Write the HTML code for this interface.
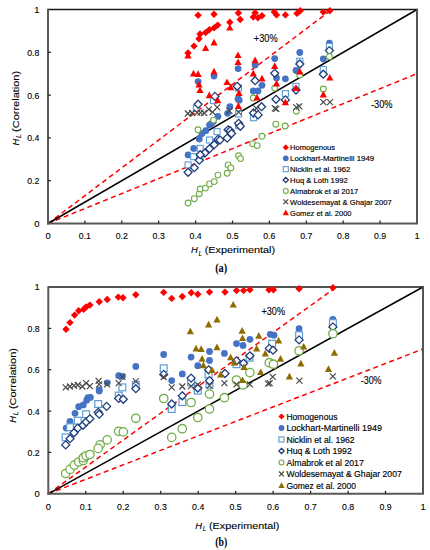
<!DOCTYPE html>
<html><head><meta charset="utf-8"><style>html,body{margin:0;padding:0;background:#fff;width:430px;height:550px;overflow:hidden}svg{display:block}</style></head><body>
<svg width="430" height="550" viewBox="0 0 430 550">
<rect width="430" height="550" fill="#fff"/>
<line x1="48.0" y1="223.5" x2="331.8" y2="9.5" stroke="#FF0000" stroke-width="1.5" stroke-dasharray="5,3.5"/>
<line x1="48.0" y1="223.5" x2="417.0" y2="73.7" stroke="#FF0000" stroke-width="1.5" stroke-dasharray="5,3.5"/>
<line x1="48.0" y1="223.5" x2="417.0" y2="9.5" stroke="#000" stroke-width="1.5"/>
<line x1="48.0" y1="9.5" x2="418.0" y2="9.5" stroke="#1a1a1a" stroke-width="1.5"/>
<line x1="417.0" y1="9.5" x2="417.0" y2="223.5" stroke="#555" stroke-width="2"/>
<line x1="48.0" y1="8.8" x2="48.0" y2="224.5" stroke="#595959" stroke-width="2"/>
<line x1="47.0" y1="223.5" x2="418.0" y2="223.5" stroke="#595959" stroke-width="2"/>
<line x1="84.9" y1="223.5" x2="84.9" y2="220.5" stroke="#222" stroke-width="1.2"/>
<line x1="121.8" y1="223.5" x2="121.8" y2="220.5" stroke="#222" stroke-width="1.2"/>
<line x1="158.7" y1="223.5" x2="158.7" y2="220.5" stroke="#222" stroke-width="1.2"/>
<line x1="195.6" y1="223.5" x2="195.6" y2="220.5" stroke="#222" stroke-width="1.2"/>
<line x1="232.5" y1="223.5" x2="232.5" y2="220.5" stroke="#222" stroke-width="1.2"/>
<line x1="269.4" y1="223.5" x2="269.4" y2="220.5" stroke="#222" stroke-width="1.2"/>
<line x1="306.3" y1="223.5" x2="306.3" y2="220.5" stroke="#222" stroke-width="1.2"/>
<line x1="343.2" y1="223.5" x2="343.2" y2="220.5" stroke="#222" stroke-width="1.2"/>
<line x1="380.1" y1="223.5" x2="380.1" y2="220.5" stroke="#222" stroke-width="1.2"/>
<line x1="48.0" y1="180.7" x2="51.0" y2="180.7" stroke="#222" stroke-width="1.2"/>
<line x1="48.0" y1="137.9" x2="51.0" y2="137.9" stroke="#222" stroke-width="1.2"/>
<line x1="48.0" y1="95.1" x2="51.0" y2="95.1" stroke="#222" stroke-width="1.2"/>
<line x1="48.0" y1="52.3" x2="51.0" y2="52.3" stroke="#222" stroke-width="1.2"/>
<path d="M198.1 11.6L201.8 15.3L198.1 19.0L194.4 15.3Z" fill="#FF0000"/>
<path d="M214.0 10.6L217.7 14.3L214.0 18.0L210.3 14.3Z" fill="#FF0000"/>
<path d="M229.8 18.6L233.5 22.3L229.8 26.0L226.1 22.3Z" fill="#FF0000"/>
<path d="M217.7 21.4L221.4 25.1L217.7 28.8L214.0 25.1Z" fill="#FF0000"/>
<path d="M214.0 24.2L217.7 27.9L214.0 31.6L210.3 27.9Z" fill="#FF0000"/>
<path d="M209.3 26.1L213.0 29.8L209.3 33.5L205.6 29.8Z" fill="#FF0000"/>
<path d="M205.6 28.9L209.3 32.6L205.6 36.3L201.9 32.6Z" fill="#FF0000"/>
<path d="M200.0 30.3L203.7 34.0L200.0 37.7L196.3 34.0Z" fill="#FF0000"/>
<path d="M199.0 35.0L202.7 38.7L199.0 42.4L195.3 38.7Z" fill="#FF0000"/>
<path d="M194.0 42.4L197.7 46.1L194.0 49.8L190.3 46.1Z" fill="#FF0000"/>
<path d="M188.0 49.3L191.7 53.0L188.0 56.7L184.3 53.0Z" fill="#FF0000"/>
<path d="M238.4 9.3L242.1 13.0L238.4 16.7L234.7 13.0Z" fill="#FF0000"/>
<path d="M240.2 15.8L243.9 19.5L240.2 23.2L236.5 19.5Z" fill="#FF0000"/>
<path d="M255.1 9.0L258.8 12.7L255.1 16.4L251.4 12.7Z" fill="#FF0000"/>
<path d="M253.3 13.4L257.0 17.1L253.3 20.8L249.6 17.1Z" fill="#FF0000"/>
<path d="M257.9 14.0L261.6 17.7L257.9 21.4L254.2 17.7Z" fill="#FF0000"/>
<path d="M262.0 12.1L265.7 15.8L262.0 19.5L258.3 15.8Z" fill="#FF0000"/>
<path d="M274.3 8.4L278.0 12.1L274.3 15.8L270.6 12.1Z" fill="#FF0000"/>
<path d="M276.5 11.2L280.2 14.9L276.5 18.6L272.8 14.9Z" fill="#FF0000"/>
<path d="M285.4 11.2L289.1 14.9L285.4 18.6L281.7 14.9Z" fill="#FF0000"/>
<path d="M297.0 9.7L300.7 13.4L297.0 17.1L293.3 13.4Z" fill="#FF0000"/>
<path d="M300.3 7.1L304.0 10.8L300.3 14.5L296.6 10.8Z" fill="#FF0000"/>
<path d="M323.3 8.4L327.0 12.1L323.3 15.8L319.6 12.1Z" fill="#FF0000"/>
<path d="M329.8 7.1L333.5 10.8L329.8 14.5L326.1 10.8Z" fill="#FF0000"/>
<circle cx="274.7" cy="58.6" r="3.40" fill="#4472C4"/>
<circle cx="299.8" cy="52.5" r="3.40" fill="#4472C4"/>
<circle cx="329.4" cy="43.2" r="3.40" fill="#4472C4"/>
<circle cx="323.3" cy="59.0" r="3.40" fill="#4472C4"/>
<circle cx="214.0" cy="76.0" r="3.40" fill="#4472C4"/>
<circle cx="198.1" cy="81.6" r="3.40" fill="#4472C4"/>
<circle cx="238.1" cy="68.6" r="3.40" fill="#4472C4"/>
<circle cx="238.0" cy="99.0" r="3.40" fill="#4472C4"/>
<circle cx="255.1" cy="64.9" r="3.40" fill="#4472C4"/>
<circle cx="262.0" cy="85.3" r="3.40" fill="#4472C4"/>
<circle cx="253.3" cy="91.0" r="3.40" fill="#4472C4"/>
<circle cx="258.0" cy="91.0" r="3.40" fill="#4472C4"/>
<circle cx="276.5" cy="77.9" r="3.40" fill="#4472C4"/>
<circle cx="285.4" cy="78.8" r="3.40" fill="#4472C4"/>
<circle cx="296.0" cy="70.5" r="3.40" fill="#4472C4"/>
<circle cx="217.9" cy="116.4" r="3.40" fill="#4472C4"/>
<circle cx="213.3" cy="121.4" r="3.40" fill="#4472C4"/>
<circle cx="209.5" cy="125.1" r="3.40" fill="#4472C4"/>
<circle cx="205.8" cy="130.7" r="3.40" fill="#4472C4"/>
<circle cx="202.0" cy="133.5" r="3.40" fill="#4472C4"/>
<circle cx="199.3" cy="139.0" r="3.40" fill="#4472C4"/>
<circle cx="193.7" cy="148.4" r="3.40" fill="#4472C4"/>
<circle cx="188.1" cy="154.9" r="3.40" fill="#4472C4"/>
<circle cx="229.9" cy="106.7" r="3.40" fill="#4472C4"/>
<circle cx="227.6" cy="113.3" r="3.40" fill="#4472C4"/>
<circle cx="239.2" cy="100.2" r="3.40" fill="#4472C4"/>
<circle cx="211.4" cy="123.6" r="3.40" fill="#4472C4"/>
<rect x="326.4" y="43.5" width="6.0" height="6.0" fill="#fff" stroke="#5B9BD5" stroke-width="1.1"/>
<rect x="210.5" y="97.6" width="6.0" height="6.0" fill="#fff" stroke="#5B9BD5" stroke-width="1.1"/>
<rect x="193.3" y="105.4" width="6.0" height="6.0" fill="#fff" stroke="#5B9BD5" stroke-width="1.1"/>
<rect x="235.4" y="85.0" width="6.0" height="6.0" fill="#fff" stroke="#5B9BD5" stroke-width="1.1"/>
<rect x="282.4" y="90.7" width="6.0" height="6.0" fill="#fff" stroke="#5B9BD5" stroke-width="1.1"/>
<rect x="296.8" y="58.2" width="6.0" height="6.0" fill="#fff" stroke="#5B9BD5" stroke-width="1.1"/>
<rect x="293.0" y="83.3" width="6.0" height="6.0" fill="#fff" stroke="#5B9BD5" stroke-width="1.1"/>
<rect x="320.3" y="66.5" width="6.0" height="6.0" fill="#fff" stroke="#5B9BD5" stroke-width="1.1"/>
<rect x="214.0" y="128.6" width="6.0" height="6.0" fill="#fff" stroke="#5B9BD5" stroke-width="1.1"/>
<rect x="206.5" y="137.0" width="6.0" height="6.0" fill="#fff" stroke="#5B9BD5" stroke-width="1.1"/>
<rect x="197.2" y="145.4" width="6.0" height="6.0" fill="#fff" stroke="#5B9BD5" stroke-width="1.1"/>
<rect x="190.7" y="153.7" width="6.0" height="6.0" fill="#fff" stroke="#5B9BD5" stroke-width="1.1"/>
<rect x="185.1" y="161.9" width="6.0" height="6.0" fill="#fff" stroke="#5B9BD5" stroke-width="1.1"/>
<rect x="235.6" y="111.0" width="6.0" height="6.0" fill="#fff" stroke="#5B9BD5" stroke-width="1.1"/>
<rect x="250.5" y="114.7" width="6.0" height="6.0" fill="#fff" stroke="#5B9BD5" stroke-width="1.1"/>
<rect x="235.6" y="122.7" width="6.0" height="6.0" fill="#fff" stroke="#5B9BD5" stroke-width="1.1"/>
<rect x="197.0" y="155.0" width="6.0" height="6.0" fill="#fff" stroke="#5B9BD5" stroke-width="1.1"/>
<path d="M329.4 46.6L333.4 50.6L329.4 54.6L325.4 50.6Z" fill="#fff" stroke="#1F3D7A" stroke-width="1.3"/>
<path d="M214.9 92.4L218.9 96.4L214.9 100.4L210.9 96.4Z" fill="#fff" stroke="#1F3D7A" stroke-width="1.3"/>
<path d="M198.1 100.2L202.1 104.2L198.1 108.2L194.1 104.2Z" fill="#fff" stroke="#1F3D7A" stroke-width="1.3"/>
<path d="M237.2 82.3L241.2 86.3L237.2 90.3L233.2 86.3Z" fill="#fff" stroke="#1F3D7A" stroke-width="1.3"/>
<path d="M255.1 76.7L259.1 80.7L255.1 84.7L251.1 80.7Z" fill="#fff" stroke="#1F3D7A" stroke-width="1.3"/>
<path d="M261.6 102.7L265.6 106.7L261.6 110.7L257.6 106.7Z" fill="#fff" stroke="#1F3D7A" stroke-width="1.3"/>
<path d="M274.7 69.3L278.7 73.3L274.7 77.3L270.7 73.3Z" fill="#fff" stroke="#1F3D7A" stroke-width="1.3"/>
<path d="M276.0 95.3L280.0 99.3L276.0 103.3L272.0 99.3Z" fill="#fff" stroke="#1F3D7A" stroke-width="1.3"/>
<path d="M285.4 95.9L289.4 99.9L285.4 103.9L281.4 99.9Z" fill="#fff" stroke="#1F3D7A" stroke-width="1.3"/>
<path d="M299.8 60.0L303.8 64.0L299.8 68.0L295.8 64.0Z" fill="#fff" stroke="#1F3D7A" stroke-width="1.3"/>
<path d="M296.0 86.0L300.0 90.0L296.0 94.0L292.0 90.0Z" fill="#fff" stroke="#1F3D7A" stroke-width="1.3"/>
<path d="M323.3 70.2L327.3 74.2L323.3 78.2L319.3 74.2Z" fill="#fff" stroke="#1F3D7A" stroke-width="1.3"/>
<path d="M217.9 135.4L221.9 139.4L217.9 143.4L213.9 139.4Z" fill="#fff" stroke="#1F3D7A" stroke-width="1.3"/>
<path d="M214.2 140.7L218.2 144.7L214.2 148.7L210.2 144.7Z" fill="#fff" stroke="#1F3D7A" stroke-width="1.3"/>
<path d="M209.5 144.7L213.5 148.7L209.5 152.7L205.5 148.7Z" fill="#fff" stroke="#1F3D7A" stroke-width="1.3"/>
<path d="M204.9 149.0L208.9 153.0L204.9 157.0L200.9 153.0Z" fill="#fff" stroke="#1F3D7A" stroke-width="1.3"/>
<path d="M228.1 125.8L232.1 129.8L228.1 133.8L224.1 129.8Z" fill="#fff" stroke="#1F3D7A" stroke-width="1.3"/>
<path d="M227.2 134.1L231.2 138.1L227.2 142.1L223.2 138.1Z" fill="#fff" stroke="#1F3D7A" stroke-width="1.3"/>
<path d="M253.5 109.0L257.5 113.0L253.5 117.0L249.5 113.0Z" fill="#fff" stroke="#1F3D7A" stroke-width="1.3"/>
<path d="M258.1 110.9L262.1 114.9L258.1 118.9L254.1 114.9Z" fill="#fff" stroke="#1F3D7A" stroke-width="1.3"/>
<path d="M238.6 119.3L242.6 123.3L238.6 127.3L234.6 123.3Z" fill="#fff" stroke="#1F3D7A" stroke-width="1.3"/>
<path d="M240.3 122.3L244.3 126.3L240.3 130.3L236.3 126.3Z" fill="#fff" stroke="#1F3D7A" stroke-width="1.3"/>
<path d="M230.2 126.7L234.2 130.7L230.2 134.7L226.2 130.7Z" fill="#fff" stroke="#1F3D7A" stroke-width="1.3"/>
<path d="M231.5 129.5L235.5 133.5L231.5 137.5L227.5 133.5Z" fill="#fff" stroke="#1F3D7A" stroke-width="1.3"/>
<path d="M220.0 136.0L224.0 140.0L220.0 144.0L216.0 140.0Z" fill="#fff" stroke="#1F3D7A" stroke-width="1.3"/>
<path d="M188.1 168.3L192.1 172.3L188.1 176.3L184.1 172.3Z" fill="#fff" stroke="#1F3D7A" stroke-width="1.3"/>
<path d="M194.3 163.7L198.3 167.7L194.3 171.7L190.3 167.7Z" fill="#fff" stroke="#1F3D7A" stroke-width="1.3"/>
<path d="M199.3 156.2L203.3 160.2L199.3 164.2L195.3 160.2Z" fill="#fff" stroke="#1F3D7A" stroke-width="1.3"/>
<path d="M200.2 150.7L204.2 154.7L200.2 158.7L196.2 154.7Z" fill="#fff" stroke="#1F3D7A" stroke-width="1.3"/>
<circle cx="329.4" cy="56.7" r="2.90" fill="#fff" stroke="#70AD47" stroke-width="1.1"/>
<circle cx="253.3" cy="98.0" r="2.90" fill="#fff" stroke="#70AD47" stroke-width="1.1"/>
<circle cx="274.7" cy="88.1" r="2.90" fill="#fff" stroke="#70AD47" stroke-width="1.1"/>
<circle cx="299.8" cy="75.0" r="2.90" fill="#fff" stroke="#70AD47" stroke-width="1.1"/>
<circle cx="323.3" cy="89.0" r="2.90" fill="#fff" stroke="#70AD47" stroke-width="1.1"/>
<circle cx="213.5" cy="120.1" r="2.90" fill="#fff" stroke="#70AD47" stroke-width="1.1"/>
<circle cx="198.0" cy="129.8" r="2.90" fill="#fff" stroke="#70AD47" stroke-width="1.1"/>
<circle cx="296.3" cy="111.2" r="2.90" fill="#fff" stroke="#70AD47" stroke-width="1.1"/>
<circle cx="275.8" cy="124.2" r="2.90" fill="#fff" stroke="#70AD47" stroke-width="1.1"/>
<circle cx="285.1" cy="126.0" r="2.90" fill="#fff" stroke="#70AD47" stroke-width="1.1"/>
<circle cx="261.9" cy="136.3" r="2.90" fill="#fff" stroke="#70AD47" stroke-width="1.1"/>
<circle cx="252.6" cy="143.7" r="2.90" fill="#fff" stroke="#70AD47" stroke-width="1.1"/>
<circle cx="257.2" cy="145.6" r="2.90" fill="#fff" stroke="#70AD47" stroke-width="1.1"/>
<circle cx="238.6" cy="155.8" r="2.90" fill="#fff" stroke="#70AD47" stroke-width="1.1"/>
<circle cx="188.1" cy="203.0" r="2.90" fill="#fff" stroke="#70AD47" stroke-width="1.1"/>
<circle cx="194.3" cy="198.7" r="2.90" fill="#fff" stroke="#70AD47" stroke-width="1.1"/>
<circle cx="199.3" cy="193.7" r="2.90" fill="#fff" stroke="#70AD47" stroke-width="1.1"/>
<circle cx="200.2" cy="189.0" r="2.90" fill="#fff" stroke="#70AD47" stroke-width="1.1"/>
<circle cx="205.4" cy="188.1" r="2.90" fill="#fff" stroke="#70AD47" stroke-width="1.1"/>
<circle cx="209.5" cy="183.9" r="2.90" fill="#fff" stroke="#70AD47" stroke-width="1.1"/>
<circle cx="214.2" cy="181.6" r="2.90" fill="#fff" stroke="#70AD47" stroke-width="1.1"/>
<circle cx="217.9" cy="175.1" r="2.90" fill="#fff" stroke="#70AD47" stroke-width="1.1"/>
<circle cx="227.2" cy="173.3" r="2.90" fill="#fff" stroke="#70AD47" stroke-width="1.1"/>
<circle cx="228.1" cy="164.9" r="2.90" fill="#fff" stroke="#70AD47" stroke-width="1.1"/>
<circle cx="240.5" cy="158.6" r="2.90" fill="#fff" stroke="#70AD47" stroke-width="1.1"/>
<circle cx="230.8" cy="167.9" r="2.90" fill="#fff" stroke="#70AD47" stroke-width="1.1"/>
<path d="M184.9 110.5L190.9 116.5M190.9 110.5L184.9 116.5" stroke="#474747" stroke-width="1.2"/>
<path d="M189.1 110.0L195.1 116.0M195.1 110.0L189.1 116.0" stroke="#474747" stroke-width="1.2"/>
<path d="M194.2 109.6L200.2 115.6M200.2 109.6L194.2 115.6" stroke="#474747" stroke-width="1.2"/>
<path d="M197.5 109.6L203.5 115.6M203.5 109.6L197.5 115.6" stroke="#474747" stroke-width="1.2"/>
<path d="M201.2 110.0L207.2 116.0M207.2 110.0L201.2 116.0" stroke="#474747" stroke-width="1.2"/>
<path d="M205.8 106.3L211.8 112.3M211.8 106.3L205.8 112.3" stroke="#474747" stroke-width="1.2"/>
<path d="M209.6 109.1L215.6 115.1M215.6 109.1L209.6 115.1" stroke="#474747" stroke-width="1.2"/>
<path d="M214.2 104.4L220.2 110.4M220.2 104.4L214.2 110.4" stroke="#474747" stroke-width="1.2"/>
<path d="M226.4 107.9L232.4 113.9M232.4 107.9L226.4 113.9" stroke="#474747" stroke-width="1.2"/>
<path d="M235.6 109.1L241.6 115.1M241.6 109.1L235.6 115.1" stroke="#474747" stroke-width="1.2"/>
<path d="M253.3 105.4L259.3 111.4M259.3 105.4L253.3 111.4" stroke="#474747" stroke-width="1.2"/>
<path d="M271.9 105.4L277.9 111.4M277.9 105.4L271.9 111.4" stroke="#474747" stroke-width="1.2"/>
<path d="M273.3 105.8L279.3 111.8M279.3 105.8L273.3 111.8" stroke="#474747" stroke-width="1.2"/>
<path d="M293.3 104.4L299.3 110.4M299.3 104.4L293.3 110.4" stroke="#474747" stroke-width="1.2"/>
<path d="M296.3 103.3L302.3 109.3M302.3 103.3L296.3 109.3" stroke="#474747" stroke-width="1.2"/>
<path d="M320.3 99.1L326.3 105.1M326.3 99.1L320.3 105.1" stroke="#474747" stroke-width="1.2"/>
<path d="M327.0 99.1L333.0 105.1M333.0 99.1L327.0 105.1" stroke="#474747" stroke-width="1.2"/>
<path d="M214.0 38.8L217.6 45.5L210.4 45.5Z" fill="#FF0000"/>
<path d="M205.6 44.4L209.2 51.1L202.0 51.1Z" fill="#FF0000"/>
<path d="M188.0 51.8L191.6 58.5L184.4 58.5Z" fill="#FF0000"/>
<path d="M229.8 23.9L233.4 30.6L226.2 30.6Z" fill="#FF0000"/>
<path d="M238.0 51.4L241.6 58.1L234.4 58.1Z" fill="#FF0000"/>
<path d="M193.5 69.7L197.1 76.4L189.9 76.4Z" fill="#FF0000"/>
<path d="M198.1 70.2L201.7 76.9L194.5 76.9Z" fill="#FF0000"/>
<path d="M214.0 67.8L217.6 74.5L210.4 74.5Z" fill="#FF0000"/>
<path d="M199.0 80.8L202.6 87.5L195.4 87.5Z" fill="#FF0000"/>
<path d="M200.0 86.4L203.6 93.1L196.4 93.1Z" fill="#FF0000"/>
<path d="M227.0 78.4L230.6 85.1L223.4 85.1Z" fill="#FF0000"/>
<path d="M230.7 83.6L234.3 90.3L227.1 90.3Z" fill="#FF0000"/>
<path d="M209.3 91.6L212.9 98.3L205.7 98.3Z" fill="#FF0000"/>
<path d="M217.7 96.6L221.3 103.3L214.1 103.3Z" fill="#FF0000"/>
<path d="M238.1 58.4L241.7 65.1L234.5 65.1Z" fill="#FF0000"/>
<path d="M239.0 89.2L242.6 95.9L235.4 95.9Z" fill="#FF0000"/>
<path d="M238.4 102.2L242.0 108.9L234.8 108.9Z" fill="#FF0000"/>
<path d="M255.1 56.6L258.7 63.3L251.5 63.3Z" fill="#FF0000"/>
<path d="M253.3 69.7L256.9 76.4L249.7 76.4Z" fill="#FF0000"/>
<path d="M262.0 74.7L265.6 81.4L258.4 81.4Z" fill="#FF0000"/>
<path d="M257.0 93.8L260.6 100.5L253.4 100.5Z" fill="#FF0000"/>
<path d="M274.7 62.2L278.3 68.9L271.1 68.9Z" fill="#FF0000"/>
<path d="M276.5 79.9L280.1 86.6L272.9 86.6Z" fill="#FF0000"/>
<path d="M285.4 98.5L289.0 105.2L281.8 105.2Z" fill="#FF0000"/>
<path d="M299.8 67.8L303.4 74.5L296.2 74.5Z" fill="#FF0000"/>
<path d="M296.0 84.4L299.6 91.1L292.4 91.1Z" fill="#FF0000"/>
<path d="M329.8 73.9L333.4 80.6L326.2 80.6Z" fill="#FF0000"/>
<path d="M323.3 90.7L326.9 97.4L319.7 97.4Z" fill="#FF0000"/>
<text x="48.0" y="239.3" font-family="Liberation Sans, sans-serif" font-size="9.4" fill="#000" stroke="#000" stroke-width="0.12" text-anchor="middle">0</text>
<text x="84.9" y="239.3" font-family="Liberation Sans, sans-serif" font-size="9.4" fill="#000" stroke="#000" stroke-width="0.12" text-anchor="middle" textLength="12.2" lengthAdjust="spacingAndGlyphs">0.1</text>
<text x="121.8" y="239.3" font-family="Liberation Sans, sans-serif" font-size="9.4" fill="#000" stroke="#000" stroke-width="0.12" text-anchor="middle" textLength="12.2" lengthAdjust="spacingAndGlyphs">0.2</text>
<text x="158.7" y="239.3" font-family="Liberation Sans, sans-serif" font-size="9.4" fill="#000" stroke="#000" stroke-width="0.12" text-anchor="middle" textLength="12.2" lengthAdjust="spacingAndGlyphs">0.3</text>
<text x="195.6" y="239.3" font-family="Liberation Sans, sans-serif" font-size="9.4" fill="#000" stroke="#000" stroke-width="0.12" text-anchor="middle" textLength="12.2" lengthAdjust="spacingAndGlyphs">0.4</text>
<text x="232.5" y="239.3" font-family="Liberation Sans, sans-serif" font-size="9.4" fill="#000" stroke="#000" stroke-width="0.12" text-anchor="middle" textLength="12.2" lengthAdjust="spacingAndGlyphs">0.5</text>
<text x="269.4" y="239.3" font-family="Liberation Sans, sans-serif" font-size="9.4" fill="#000" stroke="#000" stroke-width="0.12" text-anchor="middle" textLength="12.2" lengthAdjust="spacingAndGlyphs">0.6</text>
<text x="306.3" y="239.3" font-family="Liberation Sans, sans-serif" font-size="9.4" fill="#000" stroke="#000" stroke-width="0.12" text-anchor="middle" textLength="12.2" lengthAdjust="spacingAndGlyphs">0.7</text>
<text x="343.2" y="239.3" font-family="Liberation Sans, sans-serif" font-size="9.4" fill="#000" stroke="#000" stroke-width="0.12" text-anchor="middle" textLength="12.2" lengthAdjust="spacingAndGlyphs">0.8</text>
<text x="380.1" y="239.3" font-family="Liberation Sans, sans-serif" font-size="9.4" fill="#000" stroke="#000" stroke-width="0.12" text-anchor="middle" textLength="12.2" lengthAdjust="spacingAndGlyphs">0.9</text>
<text x="417.0" y="239.3" font-family="Liberation Sans, sans-serif" font-size="9.4" fill="#000" stroke="#000" stroke-width="0.12" text-anchor="middle">1</text>
<text x="39.4" y="226.9" font-family="Liberation Sans, sans-serif" font-size="9.4" fill="#000" stroke="#000" stroke-width="0.12" text-anchor="end">0</text>
<text x="39.4" y="184.1" font-family="Liberation Sans, sans-serif" font-size="9.4" fill="#000" stroke="#000" stroke-width="0.12" text-anchor="end" textLength="12.2" lengthAdjust="spacingAndGlyphs">0.2</text>
<text x="39.4" y="141.3" font-family="Liberation Sans, sans-serif" font-size="9.4" fill="#000" stroke="#000" stroke-width="0.12" text-anchor="end" textLength="12.2" lengthAdjust="spacingAndGlyphs">0.4</text>
<text x="39.4" y="98.5" font-family="Liberation Sans, sans-serif" font-size="9.4" fill="#000" stroke="#000" stroke-width="0.12" text-anchor="end" textLength="12.2" lengthAdjust="spacingAndGlyphs">0.6</text>
<text x="39.4" y="55.7" font-family="Liberation Sans, sans-serif" font-size="9.4" fill="#000" stroke="#000" stroke-width="0.12" text-anchor="end" textLength="12.2" lengthAdjust="spacingAndGlyphs">0.8</text>
<text x="39.4" y="12.9" font-family="Liberation Sans, sans-serif" font-size="9.4" fill="#000" stroke="#000" stroke-width="0.12" text-anchor="end">1</text>
<text x="191.1" y="253.3" font-family="Liberation Sans, sans-serif" font-size="9.4" font-style="italic" fill="#000" stroke="#000" stroke-width="0.1">H</text>
<text x="198.5" y="255.6" font-family="Liberation Sans, sans-serif" font-size="6.6" font-style="italic" fill="#000" stroke="#000" stroke-width="0.08">L</text>
<text x="204.7" y="253.3" font-family="Liberation Sans, sans-serif" font-size="9.4" fill="#000" stroke="#000" stroke-width="0.1" textLength="70.4" lengthAdjust="spacingAndGlyphs">(Experimental)</text>
<g transform="translate(18.9,144.9) rotate(-90)">
<text x="-0.6" y="0" font-family="Liberation Sans, sans-serif" font-size="9.4" font-style="italic" fill="#000" stroke="#000" stroke-width="0.1">H</text>
<text x="6.8" y="2.3" font-family="Liberation Sans, sans-serif" font-size="6.6" font-style="italic" fill="#000" stroke="#000" stroke-width="0.08">L</text>
<text x="13.0" y="0" font-family="Liberation Sans, sans-serif" font-size="9.4" fill="#000" stroke="#000" stroke-width="0.1" textLength="61" lengthAdjust="spacingAndGlyphs">(Correlation)</text>
</g>
<text x="221.2" y="271.5" font-family="Liberation Serif, serif" font-weight="bold" font-size="12.2" fill="#000" text-anchor="middle" textLength="12" lengthAdjust="spacingAndGlyphs">(a)</text>
<text x="253.8" y="41.7" font-family="Liberation Sans, sans-serif" font-size="10.3" stroke="#000" stroke-width="0.12" textLength="23.8" lengthAdjust="spacingAndGlyphs">+30%</text>
<text x="371" y="108" font-family="Liberation Sans, sans-serif" font-size="10.3" stroke="#000" stroke-width="0.12" textLength="21.6" lengthAdjust="spacingAndGlyphs">-30%</text>
<path d="M285.8 144.3L288.9 147.4L285.8 150.5L282.7 147.4Z" fill="#FF0000"/>
<text x="290.1" y="150.4" font-family="Liberation Sans, sans-serif" font-size="8.10" fill="#000" stroke="#000" stroke-width="0.16" textLength="45.0" lengthAdjust="spacingAndGlyphs">Homogenous</text>
<circle cx="285.8" cy="158.3" r="2.89" fill="#4472C4"/>
<text x="290.1" y="161.3" font-family="Liberation Sans, sans-serif" font-size="8.10" fill="#000" stroke="#000" stroke-width="0.16" textLength="84.1" lengthAdjust="spacingAndGlyphs">Lockhart-Martinelli 1949</text>
<rect x="283.2" y="166.6" width="5.1" height="5.1" fill="#fff" stroke="#5B9BD5" stroke-width="1.1"/>
<text x="290.1" y="172.1" font-family="Liberation Sans, sans-serif" font-size="8.10" fill="#000" stroke="#000" stroke-width="0.16" textLength="60.2" lengthAdjust="spacingAndGlyphs">Nicklin et al. 1962</text>
<path d="M285.8 177.4L288.4 180.0L285.8 182.6L283.2 180.0Z" fill="#fff" stroke="#1F3D7A" stroke-width="1.3"/>
<text x="290.1" y="183.0" font-family="Liberation Sans, sans-serif" font-size="8.10" fill="#000" stroke="#000" stroke-width="0.16" textLength="57.6" lengthAdjust="spacingAndGlyphs">Huq &amp; Loth 1992</text>
<circle cx="285.8" cy="190.9" r="2.46" fill="#fff" stroke="#70AD47" stroke-width="1.1"/>
<text x="290.1" y="193.9" font-family="Liberation Sans, sans-serif" font-size="8.10" fill="#000" stroke="#000" stroke-width="0.16" textLength="68.2" lengthAdjust="spacingAndGlyphs">Almabrok et al 2017</text>
<path d="M283.4 199.3L288.2 204.2M288.2 199.3L283.4 204.2" stroke="#474747" stroke-width="1.2"/>
<text x="290.1" y="204.8" font-family="Liberation Sans, sans-serif" font-size="8.10" fill="#000" stroke="#000" stroke-width="0.16" textLength="101.7" lengthAdjust="spacingAndGlyphs">Woldesemayat &amp; Ghajar 2007</text>
<path d="M285.8 209.6L288.9 215.2L282.7 215.2Z" fill="#FF0000"/>
<text x="290.1" y="215.6" font-family="Liberation Sans, sans-serif" font-size="8.10" fill="#000" stroke="#000" stroke-width="0.16" textLength="61.4" lengthAdjust="spacingAndGlyphs">Gomez et al. 2000</text>
<line x1="48.3" y1="493.8" x2="336.5" y2="287.0" stroke="#FF0000" stroke-width="1.5" stroke-dasharray="5,3.5"/>
<line x1="48.3" y1="493.8" x2="423.0" y2="349.0" stroke="#FF0000" stroke-width="1.5" stroke-dasharray="5,3.5"/>
<line x1="48.3" y1="493.8" x2="423.0" y2="287.0" stroke="#000" stroke-width="1.5"/>
<line x1="48.3" y1="287.0" x2="424.0" y2="287.0" stroke="#1a1a1a" stroke-width="1.5"/>
<line x1="423.0" y1="287.0" x2="423.0" y2="493.8" stroke="#555" stroke-width="2"/>
<line x1="48.3" y1="286.3" x2="48.3" y2="494.8" stroke="#595959" stroke-width="2"/>
<line x1="47.3" y1="493.8" x2="424.0" y2="493.8" stroke="#595959" stroke-width="2"/>
<line x1="85.8" y1="493.8" x2="85.8" y2="490.8" stroke="#222" stroke-width="1.2"/>
<line x1="123.2" y1="493.8" x2="123.2" y2="490.8" stroke="#222" stroke-width="1.2"/>
<line x1="160.7" y1="493.8" x2="160.7" y2="490.8" stroke="#222" stroke-width="1.2"/>
<line x1="198.2" y1="493.8" x2="198.2" y2="490.8" stroke="#222" stroke-width="1.2"/>
<line x1="235.6" y1="493.8" x2="235.6" y2="490.8" stroke="#222" stroke-width="1.2"/>
<line x1="273.1" y1="493.8" x2="273.1" y2="490.8" stroke="#222" stroke-width="1.2"/>
<line x1="310.6" y1="493.8" x2="310.6" y2="490.8" stroke="#222" stroke-width="1.2"/>
<line x1="348.1" y1="493.8" x2="348.1" y2="490.8" stroke="#222" stroke-width="1.2"/>
<line x1="385.5" y1="493.8" x2="385.5" y2="490.8" stroke="#222" stroke-width="1.2"/>
<line x1="48.3" y1="452.4" x2="51.3" y2="452.4" stroke="#222" stroke-width="1.2"/>
<line x1="48.3" y1="411.1" x2="51.3" y2="411.1" stroke="#222" stroke-width="1.2"/>
<line x1="48.3" y1="369.7" x2="51.3" y2="369.7" stroke="#222" stroke-width="1.2"/>
<line x1="48.3" y1="328.4" x2="51.3" y2="328.4" stroke="#222" stroke-width="1.2"/>
<path d="M66.0 325.6L69.7 329.3L66.0 333.0L62.3 329.3Z" fill="#FF0000"/>
<path d="M70.0 318.9L73.7 322.6L70.0 326.3L66.3 322.6Z" fill="#FF0000"/>
<path d="M74.6 311.4L78.3 315.1L74.6 318.8L70.9 315.1Z" fill="#FF0000"/>
<path d="M78.7 307.0L82.4 310.7L78.7 314.4L75.0 310.7Z" fill="#FF0000"/>
<path d="M83.7 305.5L87.4 309.2L83.7 312.9L80.0 309.2Z" fill="#FF0000"/>
<path d="M86.1 303.3L89.8 307.0L86.1 310.7L82.4 307.0Z" fill="#FF0000"/>
<path d="M89.9 301.4L93.6 305.1L89.9 308.8L86.2 305.1Z" fill="#FF0000"/>
<path d="M99.2 298.0L102.9 301.7L99.2 305.4L95.5 301.7Z" fill="#FF0000"/>
<path d="M107.2 295.8L110.9 299.5L107.2 303.2L103.5 299.5Z" fill="#FF0000"/>
<path d="M118.3 293.4L122.0 297.1L118.3 300.8L114.6 297.1Z" fill="#FF0000"/>
<path d="M123.0 294.0L126.7 297.7L123.0 301.4L119.3 297.7Z" fill="#FF0000"/>
<path d="M135.8 291.0L139.5 294.7L135.8 298.4L132.1 294.7Z" fill="#FF0000"/>
<path d="M163.7 288.7L167.4 292.4L163.7 296.1L160.0 292.4Z" fill="#FF0000"/>
<path d="M171.7 294.7L175.4 298.4L171.7 302.1L168.0 298.4Z" fill="#FF0000"/>
<path d="M182.3 292.8L186.0 296.5L182.3 300.2L178.6 296.5Z" fill="#FF0000"/>
<path d="M191.3 289.1L195.0 292.8L191.3 296.5L187.6 292.8Z" fill="#FF0000"/>
<path d="M197.8 290.6L201.5 294.3L197.8 298.0L194.1 294.3Z" fill="#FF0000"/>
<path d="M209.5 288.4L213.2 292.1L209.5 295.8L205.8 292.1Z" fill="#FF0000"/>
<path d="M225.0 288.4L228.7 292.1L225.0 295.8L221.3 292.1Z" fill="#FF0000"/>
<path d="M236.5 286.9L240.2 290.6L236.5 294.3L232.8 290.6Z" fill="#FF0000"/>
<path d="M243.6 286.9L247.3 290.6L243.6 294.3L239.9 290.6Z" fill="#FF0000"/>
<path d="M249.9 286.0L253.6 289.7L249.9 293.4L246.2 289.7Z" fill="#FF0000"/>
<path d="M269.0 286.0L272.7 289.7L269.0 293.4L265.3 289.7Z" fill="#FF0000"/>
<path d="M273.4 286.0L277.1 289.7L273.4 293.4L269.7 289.7Z" fill="#FF0000"/>
<path d="M299.1 285.0L302.8 288.7L299.1 292.4L295.4 288.7Z" fill="#FF0000"/>
<path d="M332.9 284.1L336.6 287.8L332.9 291.5L329.2 287.8Z" fill="#FF0000"/>
<circle cx="249.9" cy="339.3" r="3.40" fill="#4472C4"/>
<circle cx="236.5" cy="343.6" r="3.40" fill="#4472C4"/>
<circle cx="243.0" cy="345.5" r="3.40" fill="#4472C4"/>
<circle cx="270.2" cy="334.3" r="3.40" fill="#4472C4"/>
<circle cx="274.0" cy="335.2" r="3.40" fill="#4472C4"/>
<circle cx="299.1" cy="328.7" r="3.40" fill="#4472C4"/>
<circle cx="332.9" cy="319.4" r="3.40" fill="#4472C4"/>
<circle cx="99.2" cy="389.9" r="3.40" fill="#4472C4"/>
<circle cx="107.2" cy="382.8" r="3.40" fill="#4472C4"/>
<circle cx="118.7" cy="375.7" r="3.40" fill="#4472C4"/>
<circle cx="122.4" cy="376.3" r="3.40" fill="#4472C4"/>
<circle cx="88.0" cy="397.7" r="3.40" fill="#4472C4"/>
<circle cx="135.8" cy="366.4" r="3.40" fill="#4472C4"/>
<circle cx="163.7" cy="354.5" r="3.40" fill="#4472C4"/>
<circle cx="191.1" cy="357.1" r="3.40" fill="#4472C4"/>
<circle cx="197.8" cy="365.7" r="3.40" fill="#4472C4"/>
<circle cx="182.3" cy="373.9" r="3.40" fill="#4472C4"/>
<circle cx="171.7" cy="380.6" r="3.40" fill="#4472C4"/>
<circle cx="209.5" cy="351.5" r="3.40" fill="#4472C4"/>
<circle cx="224.4" cy="353.4" r="3.40" fill="#4472C4"/>
<circle cx="209.5" cy="360.5" r="3.40" fill="#4472C4"/>
<circle cx="66.2" cy="428.1" r="3.40" fill="#4472C4"/>
<circle cx="70.0" cy="421.3" r="3.40" fill="#4472C4"/>
<circle cx="75.0" cy="413.3" r="3.40" fill="#4472C4"/>
<circle cx="78.7" cy="406.7" r="3.40" fill="#4472C4"/>
<circle cx="83.3" cy="404.9" r="3.40" fill="#4472C4"/>
<circle cx="86.7" cy="400.2" r="3.40" fill="#4472C4"/>
<circle cx="90.4" cy="397.4" r="3.40" fill="#4472C4"/>
<circle cx="99.2" cy="390.9" r="3.40" fill="#4472C4"/>
<rect x="295.7" y="331.8" width="6.8" height="6.8" fill="#fff" stroke="#5B9BD5" stroke-width="1.2"/>
<rect x="329.5" y="319.7" width="6.8" height="6.8" fill="#fff" stroke="#5B9BD5" stroke-width="1.2"/>
<rect x="268.7" y="340.3" width="6.8" height="6.8" fill="#fff" stroke="#5B9BD5" stroke-width="1.2"/>
<rect x="119.0" y="384.0" width="6.8" height="6.8" fill="#fff" stroke="#5B9BD5" stroke-width="1.2"/>
<rect x="160.3" y="364.9" width="6.8" height="6.8" fill="#fff" stroke="#5B9BD5" stroke-width="1.2"/>
<rect x="132.4" y="381.6" width="6.8" height="6.8" fill="#fff" stroke="#5B9BD5" stroke-width="1.2"/>
<rect x="187.7" y="379.0" width="6.8" height="6.8" fill="#fff" stroke="#5B9BD5" stroke-width="1.2"/>
<rect x="194.4" y="387.2" width="6.8" height="6.8" fill="#fff" stroke="#5B9BD5" stroke-width="1.2"/>
<rect x="205.2" y="371.0" width="6.8" height="6.8" fill="#fff" stroke="#5B9BD5" stroke-width="1.2"/>
<rect x="233.1" y="360.8" width="6.8" height="6.8" fill="#fff" stroke="#5B9BD5" stroke-width="1.2"/>
<rect x="206.1" y="381.3" width="6.8" height="6.8" fill="#fff" stroke="#5B9BD5" stroke-width="1.2"/>
<rect x="246.1" y="354.3" width="6.8" height="6.8" fill="#fff" stroke="#5B9BD5" stroke-width="1.2"/>
<rect x="62.3" y="434.0" width="6.8" height="6.8" fill="#fff" stroke="#5B9BD5" stroke-width="1.2"/>
<rect x="66.6" y="423.8" width="6.8" height="6.8" fill="#fff" stroke="#5B9BD5" stroke-width="1.2"/>
<rect x="74.4" y="417.3" width="6.8" height="6.8" fill="#fff" stroke="#5B9BD5" stroke-width="1.2"/>
<rect x="82.7" y="410.8" width="6.8" height="6.8" fill="#fff" stroke="#5B9BD5" stroke-width="1.2"/>
<rect x="94.8" y="400.6" width="6.8" height="6.8" fill="#fff" stroke="#5B9BD5" stroke-width="1.2"/>
<rect x="115.3" y="392.2" width="6.8" height="6.8" fill="#fff" stroke="#5B9BD5" stroke-width="1.2"/>
<rect x="168.3" y="405.6" width="6.8" height="6.8" fill="#fff" stroke="#5B9BD5" stroke-width="1.2"/>
<rect x="178.9" y="398.7" width="6.8" height="6.8" fill="#fff" stroke="#5B9BD5" stroke-width="1.2"/>
<path d="M299.1 335.9L303.1 339.9L299.1 343.9L295.1 339.9Z" fill="#fff" stroke="#1F3D7A" stroke-width="1.3"/>
<path d="M332.9 322.9L336.9 326.9L332.9 330.9L328.9 326.9Z" fill="#fff" stroke="#1F3D7A" stroke-width="1.3"/>
<path d="M163.7 370.4L167.7 374.4L163.7 378.4L159.7 374.4Z" fill="#fff" stroke="#1F3D7A" stroke-width="1.3"/>
<path d="M135.8 384.7L139.8 388.7L135.8 392.7L131.8 388.7Z" fill="#fff" stroke="#1F3D7A" stroke-width="1.3"/>
<path d="M191.1 374.1L195.1 378.1L191.1 382.1L187.1 378.1Z" fill="#fff" stroke="#1F3D7A" stroke-width="1.3"/>
<path d="M197.8 384.0L201.8 388.0L197.8 392.0L193.8 388.0Z" fill="#fff" stroke="#1F3D7A" stroke-width="1.3"/>
<path d="M182.3 391.8L186.3 395.8L182.3 399.8L178.3 395.8Z" fill="#fff" stroke="#1F3D7A" stroke-width="1.3"/>
<path d="M208.6 365.8L212.6 369.8L208.6 373.8L204.6 369.8Z" fill="#fff" stroke="#1F3D7A" stroke-width="1.3"/>
<path d="M225.0 369.5L229.0 373.5L225.0 377.5L221.0 373.5Z" fill="#fff" stroke="#1F3D7A" stroke-width="1.3"/>
<path d="M236.5 356.8L240.5 360.8L236.5 364.8L232.5 360.8Z" fill="#fff" stroke="#1F3D7A" stroke-width="1.3"/>
<path d="M243.6 359.3L247.6 363.3L243.6 367.3L239.6 363.3Z" fill="#fff" stroke="#1F3D7A" stroke-width="1.3"/>
<path d="M249.9 351.8L253.9 355.8L249.9 359.8L245.9 355.8Z" fill="#fff" stroke="#1F3D7A" stroke-width="1.3"/>
<path d="M209.5 376.6L213.5 380.6L209.5 384.6L205.5 380.6Z" fill="#fff" stroke="#1F3D7A" stroke-width="1.3"/>
<path d="M269.3 344.4L273.3 348.4L269.3 352.4L265.3 348.4Z" fill="#fff" stroke="#1F3D7A" stroke-width="1.3"/>
<path d="M273.0 346.2L277.0 350.2L273.0 354.2L269.0 350.2Z" fill="#fff" stroke="#1F3D7A" stroke-width="1.3"/>
<path d="M65.7 440.9L69.7 444.9L65.7 448.9L61.7 444.9Z" fill="#fff" stroke="#1F3D7A" stroke-width="1.3"/>
<path d="M70.0 434.7L74.0 438.7L70.0 442.7L66.0 438.7Z" fill="#fff" stroke="#1F3D7A" stroke-width="1.3"/>
<path d="M74.0 428.8L78.0 432.8L74.0 436.8L70.0 432.8Z" fill="#fff" stroke="#1F3D7A" stroke-width="1.3"/>
<path d="M77.8 424.1L81.8 428.1L77.8 432.1L73.8 428.1Z" fill="#fff" stroke="#1F3D7A" stroke-width="1.3"/>
<path d="M83.0 421.3L87.0 425.3L83.0 429.3L79.0 425.3Z" fill="#fff" stroke="#1F3D7A" stroke-width="1.3"/>
<path d="M86.1 418.0L90.1 422.0L86.1 426.0L82.1 422.0Z" fill="#fff" stroke="#1F3D7A" stroke-width="1.3"/>
<path d="M89.9 414.8L93.9 418.8L89.9 422.8L85.9 418.8Z" fill="#fff" stroke="#1F3D7A" stroke-width="1.3"/>
<path d="M98.2 408.3L102.2 412.3L98.2 416.3L94.2 412.3Z" fill="#fff" stroke="#1F3D7A" stroke-width="1.3"/>
<path d="M106.6 402.4L110.6 406.4L106.6 410.4L102.6 406.4Z" fill="#fff" stroke="#1F3D7A" stroke-width="1.3"/>
<path d="M118.7 394.4L122.7 398.4L118.7 402.4L114.7 398.4Z" fill="#fff" stroke="#1F3D7A" stroke-width="1.3"/>
<path d="M123.3 395.3L127.3 399.3L123.3 403.3L119.3 399.3Z" fill="#fff" stroke="#1F3D7A" stroke-width="1.3"/>
<path d="M99.2 410.2L103.2 414.2L99.2 418.2L95.2 414.2Z" fill="#fff" stroke="#1F3D7A" stroke-width="1.3"/>
<path d="M171.7 400.0L175.7 404.0L171.7 408.0L167.7 404.0Z" fill="#fff" stroke="#1F3D7A" stroke-width="1.3"/>
<circle cx="332.9" cy="333.7" r="4.20" fill="#fff" stroke="#70AD47" stroke-width="1.3"/>
<circle cx="163.7" cy="398.5" r="4.20" fill="#fff" stroke="#70AD47" stroke-width="1.3"/>
<circle cx="249.9" cy="372.6" r="4.20" fill="#fff" stroke="#70AD47" stroke-width="1.3"/>
<circle cx="236.5" cy="380.0" r="4.20" fill="#fff" stroke="#70AD47" stroke-width="1.3"/>
<circle cx="243.0" cy="385.0" r="4.20" fill="#fff" stroke="#70AD47" stroke-width="1.3"/>
<circle cx="209.5" cy="394.0" r="4.20" fill="#fff" stroke="#70AD47" stroke-width="1.3"/>
<circle cx="224.4" cy="397.7" r="4.20" fill="#fff" stroke="#70AD47" stroke-width="1.3"/>
<circle cx="269.3" cy="362.7" r="4.20" fill="#fff" stroke="#70AD47" stroke-width="1.3"/>
<circle cx="273.4" cy="364.2" r="4.20" fill="#fff" stroke="#70AD47" stroke-width="1.3"/>
<circle cx="299.1" cy="350.8" r="4.20" fill="#fff" stroke="#70AD47" stroke-width="1.3"/>
<circle cx="118.7" cy="431.3" r="4.20" fill="#fff" stroke="#70AD47" stroke-width="1.3"/>
<circle cx="123.3" cy="431.9" r="4.20" fill="#fff" stroke="#70AD47" stroke-width="1.3"/>
<circle cx="107.2" cy="439.9" r="4.20" fill="#fff" stroke="#70AD47" stroke-width="1.3"/>
<circle cx="100.1" cy="444.9" r="4.20" fill="#fff" stroke="#70AD47" stroke-width="1.3"/>
<circle cx="65.7" cy="473.5" r="4.20" fill="#fff" stroke="#70AD47" stroke-width="1.3"/>
<circle cx="70.0" cy="469.4" r="4.20" fill="#fff" stroke="#70AD47" stroke-width="1.3"/>
<circle cx="74.4" cy="465.1" r="4.20" fill="#fff" stroke="#70AD47" stroke-width="1.3"/>
<circle cx="78.7" cy="462.0" r="4.20" fill="#fff" stroke="#70AD47" stroke-width="1.3"/>
<circle cx="83.3" cy="460.5" r="4.20" fill="#fff" stroke="#70AD47" stroke-width="1.3"/>
<circle cx="83.3" cy="457.7" r="4.20" fill="#fff" stroke="#70AD47" stroke-width="1.3"/>
<circle cx="86.1" cy="455.8" r="4.20" fill="#fff" stroke="#70AD47" stroke-width="1.3"/>
<circle cx="89.9" cy="454.5" r="4.20" fill="#fff" stroke="#70AD47" stroke-width="1.3"/>
<circle cx="98.2" cy="448.4" r="4.20" fill="#fff" stroke="#70AD47" stroke-width="1.3"/>
<circle cx="135.8" cy="418.3" r="4.20" fill="#fff" stroke="#70AD47" stroke-width="1.3"/>
<circle cx="191.1" cy="402.5" r="4.20" fill="#fff" stroke="#70AD47" stroke-width="1.3"/>
<circle cx="197.8" cy="417.5" r="4.20" fill="#fff" stroke="#70AD47" stroke-width="1.3"/>
<circle cx="182.3" cy="428.7" r="4.20" fill="#fff" stroke="#70AD47" stroke-width="1.3"/>
<circle cx="171.7" cy="437.4" r="4.20" fill="#fff" stroke="#70AD47" stroke-width="1.3"/>
<circle cx="209.5" cy="409.0" r="4.20" fill="#fff" stroke="#70AD47" stroke-width="1.3"/>
<path d="M62.7 384.4L68.7 390.4M68.7 384.4L62.7 390.4" stroke="#474747" stroke-width="1.2"/>
<path d="M67.0 383.5L73.0 389.5M73.0 383.5L67.0 389.5" stroke="#474747" stroke-width="1.2"/>
<path d="M71.0 382.6L77.0 388.6M77.0 382.6L71.0 388.6" stroke="#474747" stroke-width="1.2"/>
<path d="M74.8 382.0L80.8 388.0M80.8 382.0L74.8 388.0" stroke="#474747" stroke-width="1.2"/>
<path d="M79.4 383.5L85.4 389.5M85.4 383.5L79.4 389.5" stroke="#474747" stroke-width="1.2"/>
<path d="M83.1 380.2L89.1 386.2M89.1 380.2L83.1 386.2" stroke="#474747" stroke-width="1.2"/>
<path d="M86.9 383.1L92.9 389.1M92.9 383.1L86.9 389.1" stroke="#474747" stroke-width="1.2"/>
<path d="M95.6 377.9L101.6 383.9M101.6 377.9L95.6 383.9" stroke="#474747" stroke-width="1.2"/>
<path d="M96.2 381.3L102.2 387.3M102.2 381.3L96.2 387.3" stroke="#474747" stroke-width="1.2"/>
<path d="M104.2 381.3L110.2 387.3M110.2 381.3L104.2 387.3" stroke="#474747" stroke-width="1.2"/>
<path d="M115.7 380.2L121.7 386.2M121.7 380.2L115.7 386.2" stroke="#474747" stroke-width="1.2"/>
<path d="M119.4 373.8L125.4 379.8M125.4 373.8L119.4 379.8" stroke="#474747" stroke-width="1.2"/>
<path d="M132.8 378.3L138.8 384.3M138.8 378.3L132.8 384.3" stroke="#474747" stroke-width="1.2"/>
<path d="M168.7 384.4L174.7 390.4M174.7 384.4L168.7 390.4" stroke="#474747" stroke-width="1.2"/>
<path d="M179.3 383.5L185.3 389.5M185.3 383.5L179.3 389.5" stroke="#474747" stroke-width="1.2"/>
<path d="M188.1 383.1L194.1 389.1M194.1 383.1L188.1 389.1" stroke="#474747" stroke-width="1.2"/>
<path d="M194.8 381.7L200.8 387.7M200.8 381.7L194.8 387.7" stroke="#474747" stroke-width="1.2"/>
<path d="M160.7 374.0L166.7 380.0M166.7 374.0L160.7 380.0" stroke="#474747" stroke-width="1.2"/>
<path d="M221.4 380.2L227.4 386.2M227.4 380.2L221.4 386.2" stroke="#474747" stroke-width="1.2"/>
<path d="M233.5 381.3L239.5 387.3M239.5 381.3L233.5 387.3" stroke="#474747" stroke-width="1.2"/>
<path d="M246.9 381.3L252.9 387.3M252.9 381.3L246.9 387.3" stroke="#474747" stroke-width="1.2"/>
<path d="M206.5 382.6L212.5 388.6M212.5 382.6L206.5 388.6" stroke="#474747" stroke-width="1.2"/>
<path d="M265.1 380.7L271.1 386.7M271.1 380.7L265.1 386.7" stroke="#474747" stroke-width="1.2"/>
<path d="M269.7 373.8L275.7 379.8M275.7 373.8L269.7 379.8" stroke="#474747" stroke-width="1.2"/>
<path d="M266.7 380.2L272.7 386.2M272.7 380.2L266.7 386.2" stroke="#474747" stroke-width="1.2"/>
<path d="M296.4 377.6L302.4 383.6M302.4 377.6L296.4 383.6" stroke="#474747" stroke-width="1.2"/>
<path d="M329.9 373.3L335.9 379.3M335.9 373.3L329.9 379.3" stroke="#474747" stroke-width="1.2"/>
<path d="M190.3 327.5L193.9 334.2L186.7 334.2Z" fill="#8F6C00"/>
<path d="M233.2 300.9L236.8 307.6L229.6 307.6Z" fill="#8F6C00"/>
<path d="M217.0 315.8L220.6 322.5L213.4 322.5Z" fill="#8F6C00"/>
<path d="M208.6 320.8L212.2 327.5L205.0 327.5Z" fill="#8F6C00"/>
<path d="M242.1 327.0L245.7 333.7L238.5 333.7Z" fill="#8F6C00"/>
<path d="M242.5 334.4L246.1 341.1L238.9 341.1Z" fill="#8F6C00"/>
<path d="M258.8 332.0L262.4 338.7L255.2 338.7Z" fill="#8F6C00"/>
<path d="M278.6 336.8L282.2 343.5L275.0 343.5Z" fill="#8F6C00"/>
<path d="M303.7 342.9L307.3 349.6L300.1 349.6Z" fill="#8F6C00"/>
<path d="M196.0 344.8L199.6 351.5L192.4 351.5Z" fill="#8F6C00"/>
<path d="M201.2 345.3L204.8 352.0L197.6 352.0Z" fill="#8F6C00"/>
<path d="M217.0 343.5L220.6 350.2L213.4 350.2Z" fill="#8F6C00"/>
<path d="M202.1 355.0L205.7 361.7L198.5 361.7Z" fill="#8F6C00"/>
<path d="M203.4 361.5L207.0 368.2L199.8 368.2Z" fill="#8F6C00"/>
<path d="M212.0 366.2L215.6 372.9L208.4 372.9Z" fill="#8F6C00"/>
<path d="M220.7 370.8L224.3 377.5L217.1 377.5Z" fill="#8F6C00"/>
<path d="M230.6 353.5L234.2 360.2L227.0 360.2Z" fill="#8F6C00"/>
<path d="M234.3 358.7L237.9 365.4L230.7 365.4Z" fill="#8F6C00"/>
<path d="M244.0 363.4L247.6 370.1L240.4 370.1Z" fill="#8F6C00"/>
<path d="M256.6 344.8L260.2 351.5L253.0 351.5Z" fill="#8F6C00"/>
<path d="M265.3 349.8L268.9 356.5L261.7 356.5Z" fill="#8F6C00"/>
<path d="M260.7 368.4L264.3 375.1L257.1 375.1Z" fill="#8F6C00"/>
<path d="M242.5 376.4L246.1 383.1L238.9 383.1Z" fill="#8F6C00"/>
<path d="M280.5 355.0L284.1 361.7L276.9 361.7Z" fill="#8F6C00"/>
<path d="M300.9 359.7L304.5 366.4L297.3 366.4Z" fill="#8F6C00"/>
<path d="M289.4 372.7L293.0 379.4L285.8 379.4Z" fill="#8F6C00"/>
<path d="M334.4 349.1L338.0 355.8L330.8 355.8Z" fill="#8F6C00"/>
<path d="M328.5 365.2L332.1 371.9L324.9 371.9Z" fill="#8F6C00"/>
<text x="48.3" y="509.6" font-family="Liberation Sans, sans-serif" font-size="9.4" fill="#000" stroke="#000" stroke-width="0.12" text-anchor="middle">0</text>
<text x="85.8" y="509.6" font-family="Liberation Sans, sans-serif" font-size="9.4" fill="#000" stroke="#000" stroke-width="0.12" text-anchor="middle" textLength="12.2" lengthAdjust="spacingAndGlyphs">0.1</text>
<text x="123.2" y="509.6" font-family="Liberation Sans, sans-serif" font-size="9.4" fill="#000" stroke="#000" stroke-width="0.12" text-anchor="middle" textLength="12.2" lengthAdjust="spacingAndGlyphs">0.2</text>
<text x="160.7" y="509.6" font-family="Liberation Sans, sans-serif" font-size="9.4" fill="#000" stroke="#000" stroke-width="0.12" text-anchor="middle" textLength="12.2" lengthAdjust="spacingAndGlyphs">0.3</text>
<text x="198.2" y="509.6" font-family="Liberation Sans, sans-serif" font-size="9.4" fill="#000" stroke="#000" stroke-width="0.12" text-anchor="middle" textLength="12.2" lengthAdjust="spacingAndGlyphs">0.4</text>
<text x="235.6" y="509.6" font-family="Liberation Sans, sans-serif" font-size="9.4" fill="#000" stroke="#000" stroke-width="0.12" text-anchor="middle" textLength="12.2" lengthAdjust="spacingAndGlyphs">0.5</text>
<text x="273.1" y="509.6" font-family="Liberation Sans, sans-serif" font-size="9.4" fill="#000" stroke="#000" stroke-width="0.12" text-anchor="middle" textLength="12.2" lengthAdjust="spacingAndGlyphs">0.6</text>
<text x="310.6" y="509.6" font-family="Liberation Sans, sans-serif" font-size="9.4" fill="#000" stroke="#000" stroke-width="0.12" text-anchor="middle" textLength="12.2" lengthAdjust="spacingAndGlyphs">0.7</text>
<text x="348.1" y="509.6" font-family="Liberation Sans, sans-serif" font-size="9.4" fill="#000" stroke="#000" stroke-width="0.12" text-anchor="middle" textLength="12.2" lengthAdjust="spacingAndGlyphs">0.8</text>
<text x="385.5" y="509.6" font-family="Liberation Sans, sans-serif" font-size="9.4" fill="#000" stroke="#000" stroke-width="0.12" text-anchor="middle" textLength="12.2" lengthAdjust="spacingAndGlyphs">0.9</text>
<text x="423.0" y="509.6" font-family="Liberation Sans, sans-serif" font-size="9.4" fill="#000" stroke="#000" stroke-width="0.12" text-anchor="middle">1</text>
<text x="39.7" y="497.2" font-family="Liberation Sans, sans-serif" font-size="9.4" fill="#000" stroke="#000" stroke-width="0.12" text-anchor="end">0</text>
<text x="39.7" y="455.8" font-family="Liberation Sans, sans-serif" font-size="9.4" fill="#000" stroke="#000" stroke-width="0.12" text-anchor="end" textLength="12.2" lengthAdjust="spacingAndGlyphs">0.2</text>
<text x="39.7" y="414.5" font-family="Liberation Sans, sans-serif" font-size="9.4" fill="#000" stroke="#000" stroke-width="0.12" text-anchor="end" textLength="12.2" lengthAdjust="spacingAndGlyphs">0.4</text>
<text x="39.7" y="373.1" font-family="Liberation Sans, sans-serif" font-size="9.4" fill="#000" stroke="#000" stroke-width="0.12" text-anchor="end" textLength="12.2" lengthAdjust="spacingAndGlyphs">0.6</text>
<text x="39.7" y="331.8" font-family="Liberation Sans, sans-serif" font-size="9.4" fill="#000" stroke="#000" stroke-width="0.12" text-anchor="end" textLength="12.2" lengthAdjust="spacingAndGlyphs">0.8</text>
<text x="39.7" y="290.4" font-family="Liberation Sans, sans-serif" font-size="9.4" fill="#000" stroke="#000" stroke-width="0.12" text-anchor="end">1</text>
<text x="195.3" y="529.1" font-family="Liberation Sans, sans-serif" font-size="9.4" font-style="italic" fill="#000" stroke="#000" stroke-width="0.1">H</text>
<text x="202.7" y="531.4" font-family="Liberation Sans, sans-serif" font-size="6.6" font-style="italic" fill="#000" stroke="#000" stroke-width="0.08">L</text>
<text x="208.9" y="529.1" font-family="Liberation Sans, sans-serif" font-size="9.4" fill="#000" stroke="#000" stroke-width="0.1" textLength="70.4" lengthAdjust="spacingAndGlyphs">(Experimental)</text>
<g transform="translate(15.8,422.1) rotate(-90)">
<text x="-0.6" y="0" font-family="Liberation Sans, sans-serif" font-size="9.4" font-style="italic" fill="#000" stroke="#000" stroke-width="0.1">H</text>
<text x="6.8" y="2.3" font-family="Liberation Sans, sans-serif" font-size="6.6" font-style="italic" fill="#000" stroke="#000" stroke-width="0.08">L</text>
<text x="13.0" y="0" font-family="Liberation Sans, sans-serif" font-size="9.4" fill="#000" stroke="#000" stroke-width="0.1" textLength="61" lengthAdjust="spacingAndGlyphs">(Correlation)</text>
</g>
<text x="221.3" y="545.5" font-family="Liberation Serif, serif" font-weight="bold" font-size="12.2" fill="#000" text-anchor="middle" textLength="12" lengthAdjust="spacingAndGlyphs">(b)</text>
<text x="261.5" y="315" font-family="Liberation Sans, sans-serif" font-size="10.3" stroke="#000" stroke-width="0.12" textLength="23.5" lengthAdjust="spacingAndGlyphs">+30%</text>
<text x="360.7" y="384" font-family="Liberation Sans, sans-serif" font-size="10.3" stroke="#000" stroke-width="0.12" textLength="20.9" lengthAdjust="spacingAndGlyphs">-30%</text>
<path d="M281.5 413.4L284.6 416.5L281.5 419.6L278.4 416.5Z" fill="#FF0000"/>
<text x="286.4" y="419.9" font-family="Liberation Sans, sans-serif" font-size="9.19" fill="#000" stroke="#000" stroke-width="0.16" textLength="51.1" lengthAdjust="spacingAndGlyphs">Homogenous</text>
<circle cx="281.5" cy="428.0" r="2.89" fill="#4472C4"/>
<text x="286.4" y="431.4" font-family="Liberation Sans, sans-serif" font-size="9.19" fill="#000" stroke="#000" stroke-width="0.16" textLength="95.5" lengthAdjust="spacingAndGlyphs">Lockhart-Martinelli 1949</text>
<rect x="278.9" y="436.9" width="5.1" height="5.1" fill="#fff" stroke="#5B9BD5" stroke-width="1.1"/>
<text x="286.4" y="442.9" font-family="Liberation Sans, sans-serif" font-size="9.19" fill="#000" stroke="#000" stroke-width="0.16" textLength="68.3" lengthAdjust="spacingAndGlyphs">Nicklin et al. 1962</text>
<path d="M281.5 448.3L284.1 450.9L281.5 453.5L278.9 450.9Z" fill="#fff" stroke="#1F3D7A" stroke-width="1.3"/>
<text x="286.4" y="454.3" font-family="Liberation Sans, sans-serif" font-size="9.19" fill="#000" stroke="#000" stroke-width="0.16" textLength="65.4" lengthAdjust="spacingAndGlyphs">Huq &amp; Loth 1992</text>
<circle cx="281.5" cy="462.4" r="2.46" fill="#fff" stroke="#70AD47" stroke-width="1.1"/>
<text x="286.4" y="465.8" font-family="Liberation Sans, sans-serif" font-size="9.19" fill="#000" stroke="#000" stroke-width="0.16" textLength="77.4" lengthAdjust="spacingAndGlyphs">Almabrok et al 2017</text>
<path d="M279.1 471.5L283.9 476.3M283.9 471.5L279.1 476.3" stroke="#474747" stroke-width="1.2"/>
<text x="286.4" y="477.3" font-family="Liberation Sans, sans-serif" font-size="9.19" fill="#000" stroke="#000" stroke-width="0.16" textLength="115.4" lengthAdjust="spacingAndGlyphs">Woldesemayat &amp; Ghajar 2007</text>
<path d="M281.5 482.3L284.6 488.0L278.4 488.0Z" fill="#8F6C00"/>
<text x="286.4" y="488.8" font-family="Liberation Sans, sans-serif" font-size="9.19" fill="#000" stroke="#000" stroke-width="0.16" textLength="69.7" lengthAdjust="spacingAndGlyphs">Gomez et al. 2000</text>
</svg>
</body></html>
